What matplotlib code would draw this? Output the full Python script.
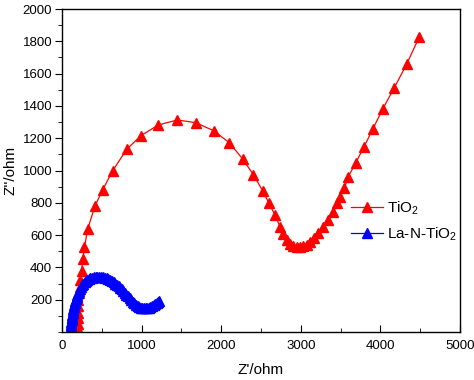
import matplotlib
matplotlib.use('Agg')
import matplotlib.pyplot as plt
from matplotlib.ticker import MultipleLocator

plt.rcParams['font.family'] = ['Liberation Sans', 'DejaVu Sans']
plt.rcParams['mathtext.fontset'] = 'custom'
plt.rcParams['mathtext.rm'] = 'Liberation Sans'
plt.rcParams['mathtext.it'] = 'Liberation Sans:italic'

# TiO2 Nyquist data (Z', Z'')
tio2_x = [195, 196, 198, 200, 203, 207, 212, 220, 232, 246, 262, 282, 322, 415, 510, 637,
          813, 992, 1210, 1449, 1683, 1910, 2102, 2270, 2404, 2520, 2600, 2676, 2739,
          2780, 2822, 2864, 2906, 2948, 2990, 3031, 3073, 3116, 3170, 3220, 3283, 3346,
          3409, 3451, 3492, 3547, 3597, 3690, 3794, 3903, 4029, 4175, 4330, 4489]
tio2_y = [20, 50, 85, 120, 160, 200, 240, 280, 325, 380, 450, 525, 636, 782, 879, 999,
          1131, 1216, 1282, 1313, 1296, 1245, 1172, 1071, 974, 875, 797, 724, 652,
          607, 570, 548, 535, 528, 526, 530, 541, 556, 580, 611, 652, 693,
          745, 797, 838, 890, 962, 1048, 1147, 1255, 1381, 1513, 1659, 1828]

# La-N-TiO2 Nyquist data
lan_x = [108, 109, 110, 111, 112, 114, 116, 118, 120, 123, 126, 130, 134, 138, 143,
         148, 154, 160, 167, 175, 183, 192, 202, 213, 225, 238, 252, 267, 283, 300,
         318, 337, 357, 378, 400, 422, 445, 468, 491, 514, 537, 560, 583, 605, 627,
         648, 669, 690, 710, 730, 750, 770, 790, 810, 830, 850, 870, 890, 910, 930,
         950, 970, 990, 1010, 1030, 1050, 1070, 1090, 1110, 1130, 1150, 1170, 1190, 1210, 1220]
lan_y = [0, 8, 16, 24, 32, 42, 52, 62, 72, 84, 96, 108, 120, 132, 144,
         156, 168, 180, 192, 204, 216, 228, 240, 252, 264, 276, 288, 298, 307, 315,
         322, 328, 333, 337, 340, 342, 343, 343, 342, 340, 337, 333, 328, 322, 315,
         308, 300, 292, 283, 274, 264, 254, 243, 232, 221, 210, 199, 188, 178, 169,
         161, 155, 150, 147, 146, 146, 148, 151, 155, 160, 165, 171, 177, 184, 190]

fig = plt.figure(figsize=(4.74, 3.80), dpi=100)
ax = fig.add_axes([0.1308, 0.1263, 0.8397, 0.85])

ax.plot(tio2_x, tio2_y, color='#ff0000', lw=0.9, marker='^', ms=6.5, mec='#ff0000',
        mfc='#ff0000', label=r'TiO$_\mathregular{2}$')
ax.plot(lan_x, lan_y, color='#0000ff', lw=0.9, marker='^', ms=6.5, mec='#0000ff',
        mfc='#0000ff', label=r'La-N-TiO$_\mathregular{2}$')

ax.set_xlim(0, 5000)
ax.set_ylim(0, 2000)
ax.xaxis.set_major_locator(MultipleLocator(1000))
ax.xaxis.set_minor_locator(MultipleLocator(500))
ax.yaxis.set_major_locator(MultipleLocator(200))
ax.yaxis.set_minor_locator(MultipleLocator(100))
ax.set_yticks(range(200, 2001, 200))
ax.tick_params(axis='x', which='both', direction='in', labelsize=9.5, pad=6)
ax.tick_params(axis='x', which='major', length=5)
ax.tick_params(axis='x', which='minor', length=3)
ax.tick_params(axis='y', which='both', direction='out', labelsize=9.5, pad=2)
ax.tick_params(axis='y', which='major', length=5)
ax.tick_params(axis='y', which='minor', length=3)
for s in ax.spines.values():
    s.set_linewidth(1.0)

ax.set_xlabel("Z'/ohm", fontsize=11, labelpad=8)
ax.set_ylabel("Z''/ohm", fontsize=11, labelpad=4)

ax.legend(loc='upper left', bbox_to_anchor=(0.725, 0.41), frameon=False, fontsize=11,
          handlelength=2.1, handletextpad=0.3, labelspacing=0.55, borderpad=0,
          borderaxespad=0)

fig.savefig('out.png', dpi=100)
